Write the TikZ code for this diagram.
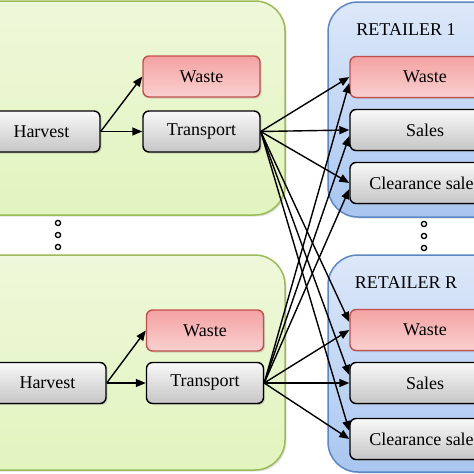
\documentclass[tikz,border=0pt]{standalone}
\usepackage{fontspec}
\setmainfont{Liberation Serif}
\usepackage{tikz}
\usetikzlibrary{positioning,calc,arrows.meta,shadows}
\usepackage{xcolor}
\definecolor{farmfill}{HTML}{E2F4BE}
\definecolor{farmtop}{HTML}{EEF8DA}
\definecolor{farmline}{HTML}{9BBB59}
\definecolor{retailfill}{HTML}{A9C6F0}
\definecolor{retailtop}{HTML}{DDE8F9}
\definecolor{retailline}{HTML}{5B87C5}
\definecolor{wastetop}{HTML}{F4A2A2}
\definecolor{wastebot}{HTML}{FAD0D0}
\definecolor{wasteline}{HTML}{C0504D}

\begin{document}
\begin{tikzpicture}[
    x=1pt, y=-1pt,
    farmpanel/.style={top color=farmtop, bottom color=farmfill, draw=farmline, line width=1.5pt, rounded corners=30pt,
        drop shadow={opacity=0.25, shadow xshift=1.5pt, shadow yshift=-1.5pt}},
    retailpanel/.style={top color=retailtop, bottom color=retailfill, draw=retailline, line width=1.5pt, rounded corners=30pt,
        drop shadow={opacity=0.25, shadow xshift=1.5pt, shadow yshift=-1.5pt}},
    stagebox/.style={top color=gray!5, bottom color=gray!45, draw=black, line width=1.4pt, rounded corners=6pt,
        minimum width=117pt, minimum height=41pt, inner sep=0pt, font=\fontsize{18}{20}\selectfont,
        drop shadow={opacity=0.3, shadow xshift=1.5pt, shadow yshift=-1.5pt}},
    wastebox/.style={stagebox, top color=wastetop, bottom color=wastebot, draw=wasteline},
    shopbox/.style={stagebox, minimum width=150pt},
    shopwaste/.style={wastebox, minimum width=150pt},
    flow/.style={-{Triangle[length=10pt,width=8pt]}, line width=1.4pt},
    dotmark/.style={draw=black, fill=white, line width=1.3pt},
    ttl/.style={font=\fontsize{18}{20}\selectfont},
]
\useasboundingbox (0,0) rectangle (474,474);

% panels
\path[farmpanel] (-40,1) rectangle (285,215);
\path[farmpanel] (-40,255) rectangle (285,470);
\path[retailpanel] (328,2) rectangle (530,217);
\path[retailpanel] (328,255) rectangle (530,472);

% farm 1
\node[stagebox] (harvA) at (41.5,131.5) {Harvest};
\node[stagebox] (transA) at (201.5,131.5) {Transport};
\node[wastebox] (wasteA) at (201.5,76.5) {Waste};

% farm F
\node[stagebox] (harvB) at (47.5,383) {Harvest};
\node[stagebox] (transB) at (205,383) {Transport};
\node[wastebox] (wasteB) at (205,330.5) {Waste};

% retailer 1
\node[ttl] (titleA) at (406,30) {RETAILER 1};
\node[shopwaste] (oneWaste) at (425,77) {Waste};
\node[shopbox] (oneSales) at (425,130) {Sales};
\node[shopbox] (oneClear) at (425,183) {Clearance sales};

% retailer R
\node[ttl] (titleR) at (406,283) {RETAILER R};
\node[shopwaste] (lastWaste) at (425,330) {Waste};
\node[shopbox] (lastSales) at (425,383) {Sales};
\node[shopbox] (lastClear) at (425,439) {Clearance sales};

% vertical dots
\foreach \yy in {223,235,247} {
  \draw[dotmark] (58,\yy) circle (2.6pt);
  \draw[dotmark] (424,\yy+1) circle (2.6pt);
}

% inside the farms
\draw[flow] (harvA.east) -- (wasteA.west);
\draw[flow] (harvA.east) -- (transA.west);
\draw[flow] (harvB.east) -- (wasteB.west);
\draw[flow] (harvB.east) -- (transB.west);

% to the retailers
\foreach \shop in {oneWaste,oneSales,oneClear} {
  \draw[flow] (transA.east) -- (\shop.west);
  \draw[flow] (transB.east) -- ([yshift=-6pt]\shop.west);
}
\foreach \shop in {lastWaste,lastSales,lastClear} {
  \draw[flow] (transA.east) -- ([yshift=8pt]\shop.west);
  \draw[flow] (transB.east) -- (\shop.west);
}
\end{tikzpicture}
\end{document}
